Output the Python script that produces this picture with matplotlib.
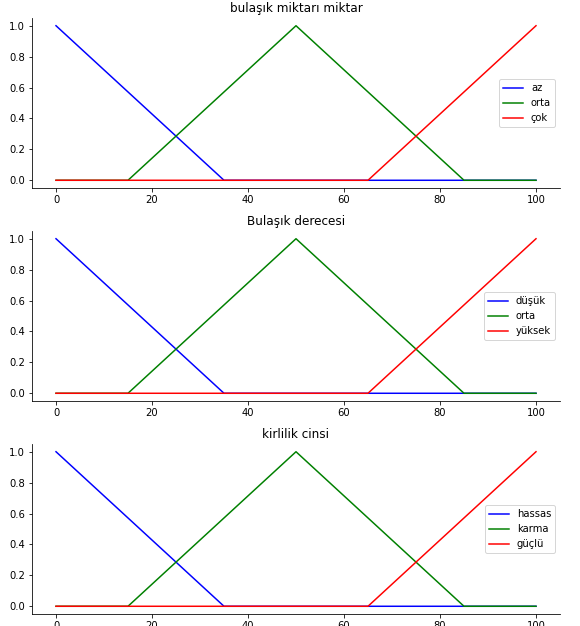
import matplotlib
matplotlib.use('Agg')
import matplotlib.pyplot as plt

# breakpoints of each membership function
x_low = [0, 35, 100]
y_low = [1, 0, 0]
x_mid = [0, 15, 50, 85, 100]
y_mid = [0, 0, 1, 0, 0]
x_high = [0, 65, 100]
y_high = [0, 0, 1]

titles = ['bulaşık miktarı miktar', 'Bulaşık derecesi', 'kirlilik cinsi']
labels = [['az', 'orta', 'çok'],
          ['düşük', 'orta', 'yüksek'],
          ['hassas', 'karma', 'güçlü']]

fig = plt.figure(figsize=(580 / 72, 626 / 72), dpi=72)

# axes boxes in figure fraction: left, bottom, width, height
tops = [18, 231, 444]
for i in range(3):
    top = tops[i]
    ax = fig.add_axes([32 / 580, 1 - (top + 170) / 626, 528 / 580, 170 / 626])
    ax.plot(x_low, y_low, 'b', linewidth=1.5, label=labels[i][0])
    ax.plot(x_mid, y_mid, 'g', linewidth=1.5, label=labels[i][1])
    ax.plot(x_high, y_high, 'r', linewidth=1.5, label=labels[i][2])
    ax.set_title(titles[i])
    ax.legend(loc='center right')
    ax.spines['top'].set_visible(False)
    ax.spines['right'].set_visible(False)
    ax.get_xaxis().tick_bottom()
    ax.get_yaxis().tick_left()

fig.savefig('out.png', dpi=72)
